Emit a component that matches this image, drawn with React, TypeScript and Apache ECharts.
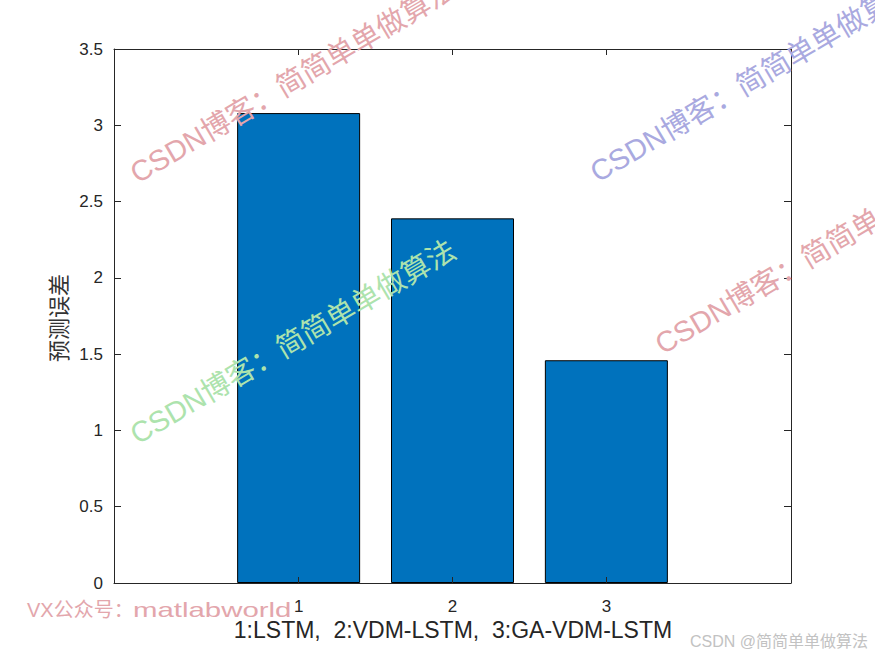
import React, { useEffect, useRef } from "react";
import * as echarts from "echarts";

const categories = [1, 2, 3];
const errors = [3.08, 2.39, 1.46];
const yTicks = [0, 0.5, 1, 1.5, 2, 2.5, 3, 3.5];
const xTitle = "1:LSTM,  2:VDM-LSTM,  3:GA-VDM-LSTM";
const yTitle = "预测误差";
const watermark = "CSDN博客：简简单单做算法";

export default function App() {
  const ref = useRef<HTMLDivElement>(null);
  useEffect(() => {
    document.body.style.margin = "0";
    const chart = echarts.init(ref.current!, null, { renderer: "svg" });
    const axisColor = "#262626";
    const font = "'Liberation Sans', Arial, sans-serif";
    const wmFont = "'Liberation Sans', Arial, 'Noto Sans CJK SC', sans-serif";
    const rot = (30.5 * Math.PI) / 180;
    const pink = "#e3a6ac";
    const wm = (x: number, y: number, color: string) => ({
      type: "text",
      x,
      y,
      rotation: rot,
      z: 100,
      style: {
        text: watermark,
        fill: color,
        font: `29px ${wmFont}`,
        textAlign: "left",
        textVerticalAlign: "bottom",
      },
    });
    chart.setOption({
      animation: false,
      backgroundColor: "#fff",
      grid: { left: 114, top: 49, right: 84, bottom: 73, containLabel: false },
      xAxis: [
        {
          type: "value",
          position: "bottom",
          min: -0.2,
          max: 4.2,
          axisLine: { show: true, onZero: false, lineStyle: { color: axisColor, width: 1 } },
          axisTick: { show: true, inside: true, length: 6, customValues: categories, lineStyle: { color: axisColor } },
          axisLabel: { show: true, customValues: categories, margin: 15, color: axisColor, fontSize: 17, fontFamily: font },
          splitLine: { show: false },
          z: 10,
        },
        {
          type: "value",
          position: "top",
          min: -0.2,
          max: 4.2,
          axisLine: { show: true, onZero: false, lineStyle: { color: axisColor, width: 1 } },
          axisTick: { show: true, inside: true, length: 6, customValues: categories, lineStyle: { color: axisColor } },
          axisLabel: { show: false },
          splitLine: { show: false },
          z: 10,
        },
      ],
      yAxis: [
        {
          type: "value",
          position: "left",
          min: 0,
          max: 3.5,
          interval: 0.5,
          axisLine: { show: true, onZero: false, lineStyle: { color: axisColor, width: 1 } },
          axisTick: { show: true, inside: true, length: 7, lineStyle: { color: axisColor } },
          axisLabel: {
            show: true,
            margin: 11,
            color: axisColor,
            fontSize: 17,
            fontFamily: font,
            customValues: yTicks,
            formatter: (v: number) => String(v),
          },
          splitLine: { show: false },
          z: 10,
        },
        {
          type: "value",
          position: "right",
          min: 0,
          max: 3.5,
          interval: 0.5,
          axisLine: { show: true, onZero: false, lineStyle: { color: axisColor, width: 1 } },
          axisTick: { show: true, inside: true, length: 7, lineStyle: { color: axisColor } },
          axisLabel: { show: false },
          splitLine: { show: false },
          z: 10,
        },
      ],
      series: [
        {
          type: "bar",
          xAxisIndex: 0,
          yAxisIndex: 0,
          barWidth: 123,
          data: categories.map((c, i) => [c, errors[i]]),
          itemStyle: { color: "#0072BD", borderColor: "#000", borderWidth: 1 },
          z: 2,
        },
      ],
      graphic: [
        {
          type: "text",
          x: 57,
          y: 318,
          rotation: Math.PI / 2,
          style: {
            text: yTitle,
            fill: "#333",
            font: "22px 'Noto Sans CJK SC', serif",
            textAlign: "center",
            textVerticalAlign: "middle",
          },
        },
        {
          type: "text",
          x: 453,
          y: 630,
          style: {
            text: xTitle,
            fill: axisColor,
            font: `23px ${font}`,
            textAlign: "center",
            textVerticalAlign: "middle",
          },
        },
        wm(140, 188, pink),
        wm(600, 187, "#a9a9e0"),
        wm(140, 449, "#ade3ad"),
        wm(665, 359, pink),
        {
          type: "text",
          x: 27,
          y: 610,
          z: 100,
          style: {
            text: "VX公众号：",
            fill: pink,
            font: `20px ${wmFont}`,
            textAlign: "left",
            textVerticalAlign: "middle",
          },
        },
        {
          type: "text",
          x: 133,
          y: 610,
          scaleX: 1.4,
          z: 100,
          style: {
            text: "matlabworld",
            fill: pink,
            font: `21px ${wmFont}`,
            textAlign: "left",
            textVerticalAlign: "middle",
          },
        },
        {
          type: "text",
          x: 868,
          y: 641,
          z: 100,
          style: {
            text: "CSDN @简简单单做算法",
            fill: "#c2c2c2",
            font: `16px ${wmFont}`,
            textAlign: "right",
            textVerticalAlign: "middle",
          },
        },
      ],
    });
    return () => chart.dispose();
  }, []);
  return <div ref={ref} style={{ width: 875, height: 656 }} />;
}
